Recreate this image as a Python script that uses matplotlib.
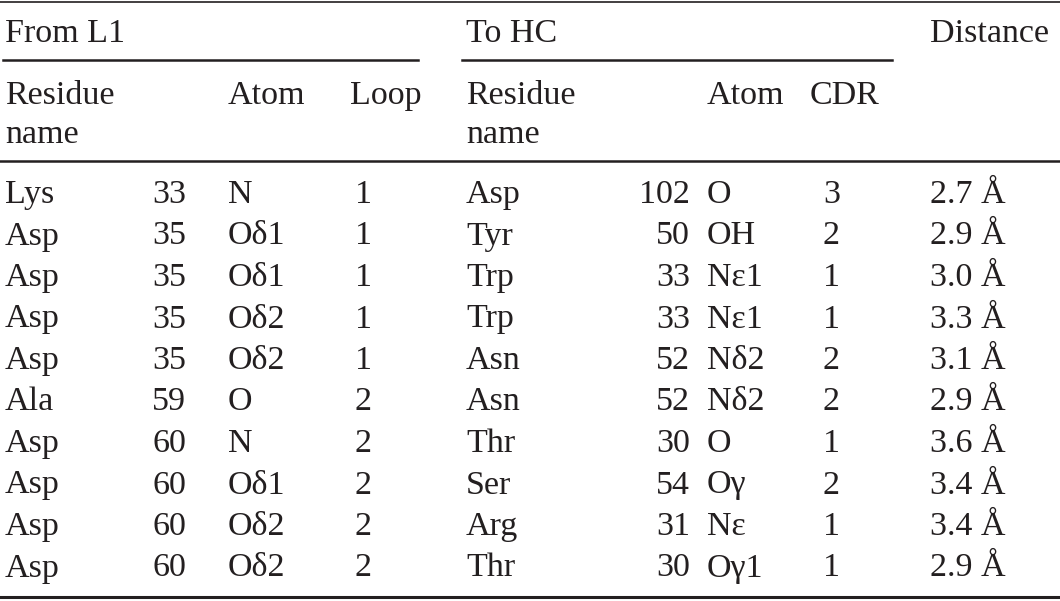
import matplotlib
matplotlib.use("Agg")
import matplotlib.pyplot as plt

res1 = ["Lys","Asp","Asp","Asp","Asp","Ala","Asp","Asp","Asp","Asp"]
num1 = ["33","35","35","35","35","59","60","60","60","60"]
atom1 = ["N","Oδ1","Oδ1","Oδ2","Oδ2","O","N","Oδ1","Oδ2","Oδ2"]
loop = ["1","1","1","1","1","2","2","2","2","2"]
res2 = ["Asp","Tyr","Trp","Trp","Asn","Asn","Thr","Ser","Arg","Thr"]
num2 = ["102","50","33","33","52","52","30","54","31","30"]
atom2 = ["O","OH","Nε1","Nε1","Nδ2","Nδ2","O","Oγ","Nε","Oγ1"]
cdr = ["3","2","1","1","2","2","1","2","1","1"]
dist = ["2.7 Å","2.9 Å","3.0 Å","3.3 Å","3.1 Å","2.9 Å","3.6 Å","3.4 Å","3.4 Å","2.9 Å"]

W, H = 1060, 601
fig = plt.figure(figsize=(10.6, 6.01), dpi=100)
ax = fig.add_axes([0, 0, 1, 1])
ax.set_xlim(0, W); ax.set_ylim(H, 0); ax.axis("off")
fs = 24.5
kw = dict(fontsize=fs, family=["Liberation Serif", "DejaVu Serif"], va="baseline", color="#231f20")

def t(x, y, s, ha="left"):
    ax.text(x, y, s, ha=ha, **kw)

# rules
ax.plot([0, W], [1.5, 1.5], color="#231f20", lw=1.2)
ax.plot([3, 418], [60, 60], color="#231f20", lw=1.8)
ax.plot([462, 892], [60, 60], color="#231f20", lw=1.8)
ax.plot([0, W], [161, 161], color="#231f20", lw=1.8)
ax.plot([0, W], [597, 597], color="#231f20", lw=2.2)

t(5, 42, "From L1"); t(466, 42, "To HC"); t(930, 42, "Distance")
t(5, 104, "Residue"); t(5, 143, "name")
t(228, 104, "Atom"); t(350, 104, "Loop")
t(466, 104, "Residue"); t(466, 143, "name")
t(707, 104, "Atom"); t(810, 104, "CDR")

y0, dy = 203, 41.5
for i in range(len(res1)):
    y = y0 + i * dy
    t(5, y, res1[i]); t(186, y, num1[i], "right"); t(228, y, atom1[i]); t(355, y, loop[i])
    t(466, y, res2[i]); t(690, y, num2[i], "right"); t(707, y, atom2[i]); t(823, y, cdr[i])
    t(930, y, dist[i])

fig.savefig("out.png", dpi=100)
